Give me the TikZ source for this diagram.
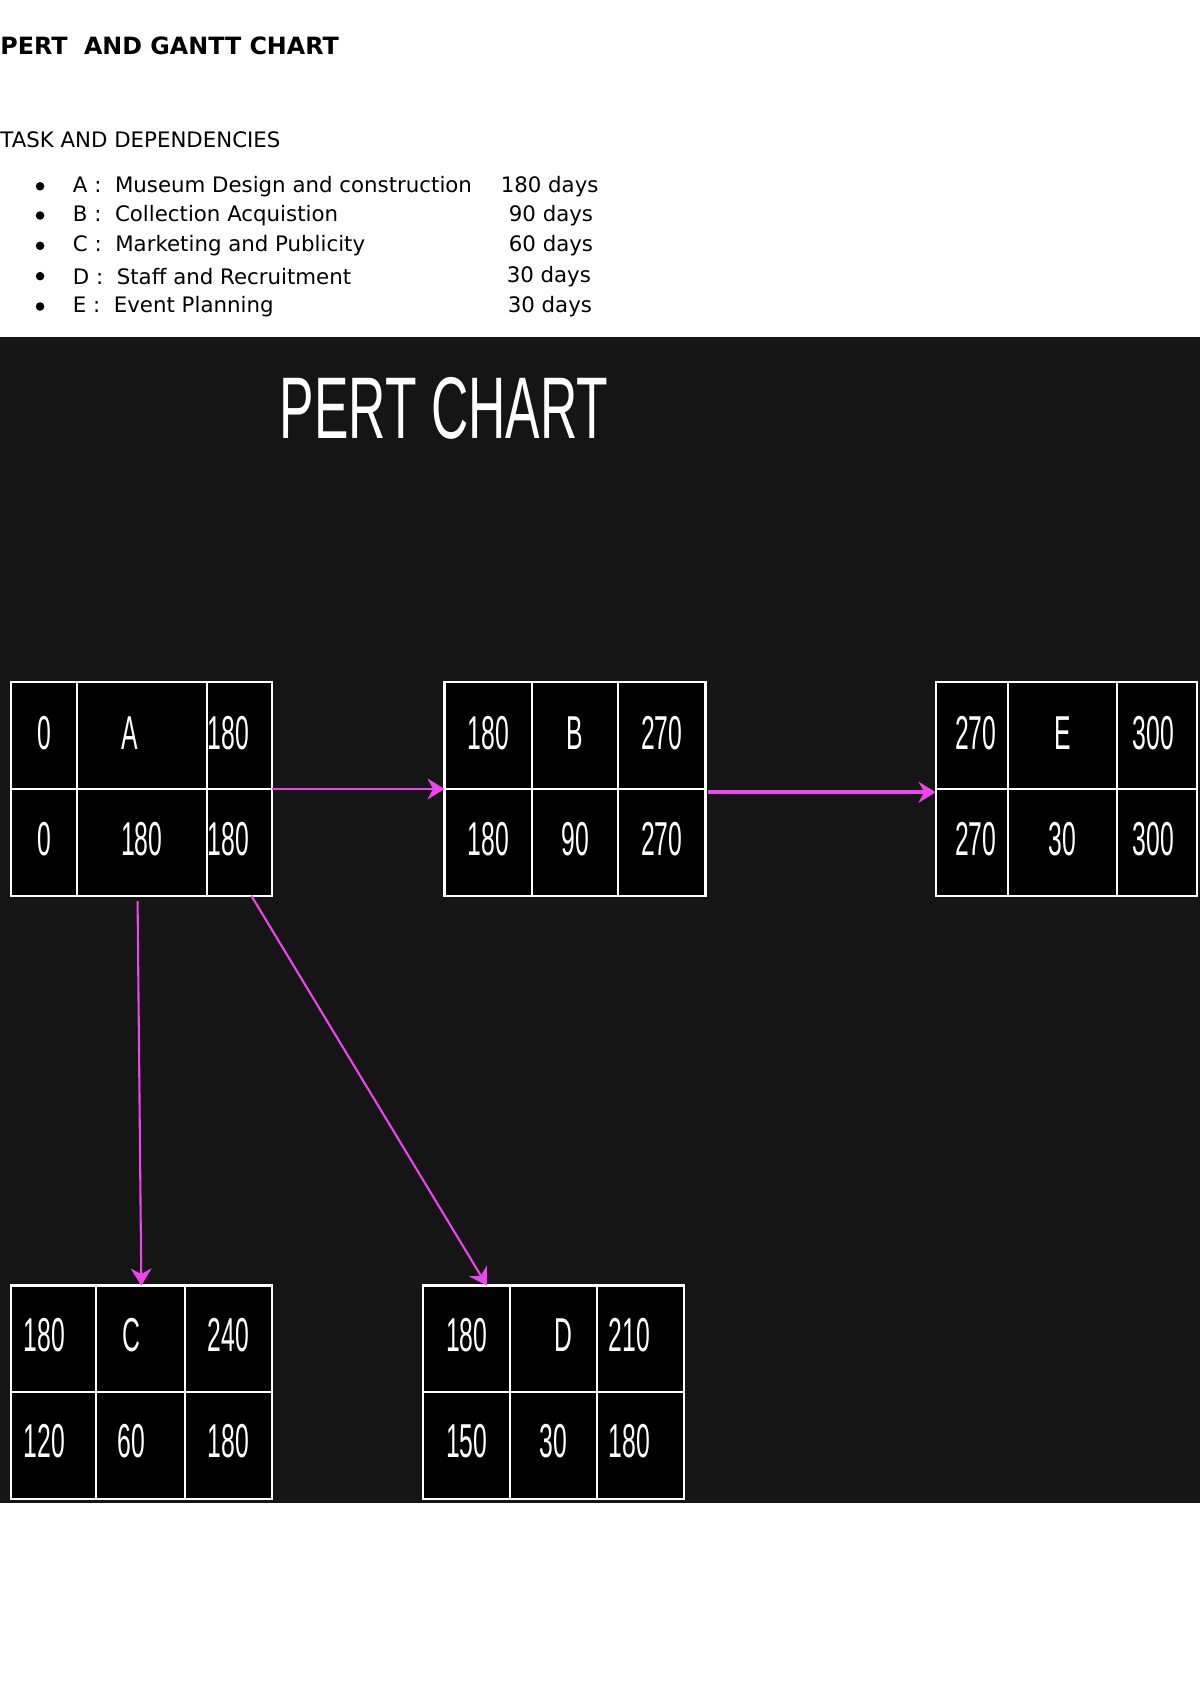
\documentclass[tikz,border=0pt]{standalone}
\usepackage{fontspec}
\setmainfont{Liberation Sans}
\newfontfamily\dvs{DejaVu Sans}
\usetikzlibrary{calc,arrows.meta}
\begin{document}
\begin{tikzpicture}[x=0.02cm,y=-0.02cm,
  box/.style={draw=white,line width=1.2pt,fill=black,inner sep=0,outer sep=0,minimum width=4.82cm,minimum height=3.94cm},
  cell/.style={text=white,font=\fontsize{25}{28}\selectfont,xscale=0.52,inner sep=0},
  tx/.style={anchor=west,inner sep=0,font=\dvs\fontsize{11.2}{13}\selectfont},
  dy/.style={anchor=east,inner sep=0,font=\dvs\fontsize{11.2}{13}\selectfont},
  bul/.style={circle,fill=black,inner sep=0,minimum size=4.5pt},
  arr/.style={draw={rgb,255:red,238;green,68;blue,238},line width=1.1pt,-{Stealth[length=9pt,width=11pt]}}]
\useasboundingbox (0,0) rectangle (1108,1566);
\node[anchor=west,inner sep=0,font=\dvs\bfseries\fontsize{12.5}{14}\selectfont] (t1) at (0,42) {PERT\ \ AND GANTT CHART};
\node[tx] (t2) at (0,129) {TASK AND DEPENDENCIES};
\foreach \y/\l/\t/\d in {172/A/Museum Design and construction/180 days,199/B/Collection Acquistion/90 days,227/C/Marketing and Publicity/60 days,255/D/Staff and Recruitment/30 days,283/E/Event Planning/30 days}{
  \node[bul] (b\l) at (37,\y) {};
  \node[tx] (l\l) at (67,\y) {\l\ :\ \ \t};
}
\node[dy] (dA) at (553,172) {180 days};
\node[dy] (dB) at (548,199) {90 days};
\node[dy] (dC) at (548,227) {60 days};
\node[dy] (dD) at (546,255) {30 days};
\node[dy] (dE) at (547,283) {30 days};
\fill[fill={rgb,255:red,21;green,21;blue,21}] (0,311) rectangle (1108,1388);
\node[text=white,font=\fontsize{46}{50}\selectfont,xscale=0.59,inner sep=0] (pc) at (410,377) {PERT CHART};
% boxes
\node[box] (A) at (130.5,728.5) {};
\node[box] (B) at (531,728.5) {};
\node[box] (E) at (984.5,728.5) {};
\node[box] (C) at (130.5,1285.5) {};
\node[box] (D) at (511,1285.5) {};
\foreach \n/\x/\a/\b in {A/10/71/191,B/411/491/571,E/864/931/1031,C/10/89/171,D/391/471/551}{
  \draw[white,line width=1pt] (\a,0|-\n.north) -- (\a,0|-\n.south);
  \draw[white,line width=1pt] (\b,0|-\n.north) -- (\b,0|-\n.south);
  \draw[white,line width=1.2pt] (\n.west) -- (\n.east);
}
\foreach \x/\y/\t in {41/677/0,120/677/A,211/677/180,41/775/0,131/775/180,211/775/180,
  451/677/180,531/677/B,611/677/270,451/775/180,531/775/90,611/775/270,
  901/677/270,981/677/E,1065/677/300,901/775/270,981/775/30,1065/775/300,
  41/1233/180,121/1233/C,211/1233/240,41/1331/120,121/1331/60,211/1331/180,
  431/1233/180,520/1233/D,581/1233/210,431/1331/150,511/1331/30,581/1331/180}
  \node[cell] at (\x,\y) {\t};
\coordinate (a1) at ($(A.south west)+(117,5)$);
\coordinate (a2) at ($(A.south west)+(222,0)$);
\coordinate (d1) at ($(D.north west)+(59,0)$);
\draw[arr] (A.east) -- (B.west);
\draw[arr,line width=2pt] ($(B.east)+(2,3)$) -- ($(E.west)+(0,3)$);
\draw[arr] (a1) -- (C.north);
\draw[arr] (a2) -- (d1);
\end{tikzpicture}
\end{document}
